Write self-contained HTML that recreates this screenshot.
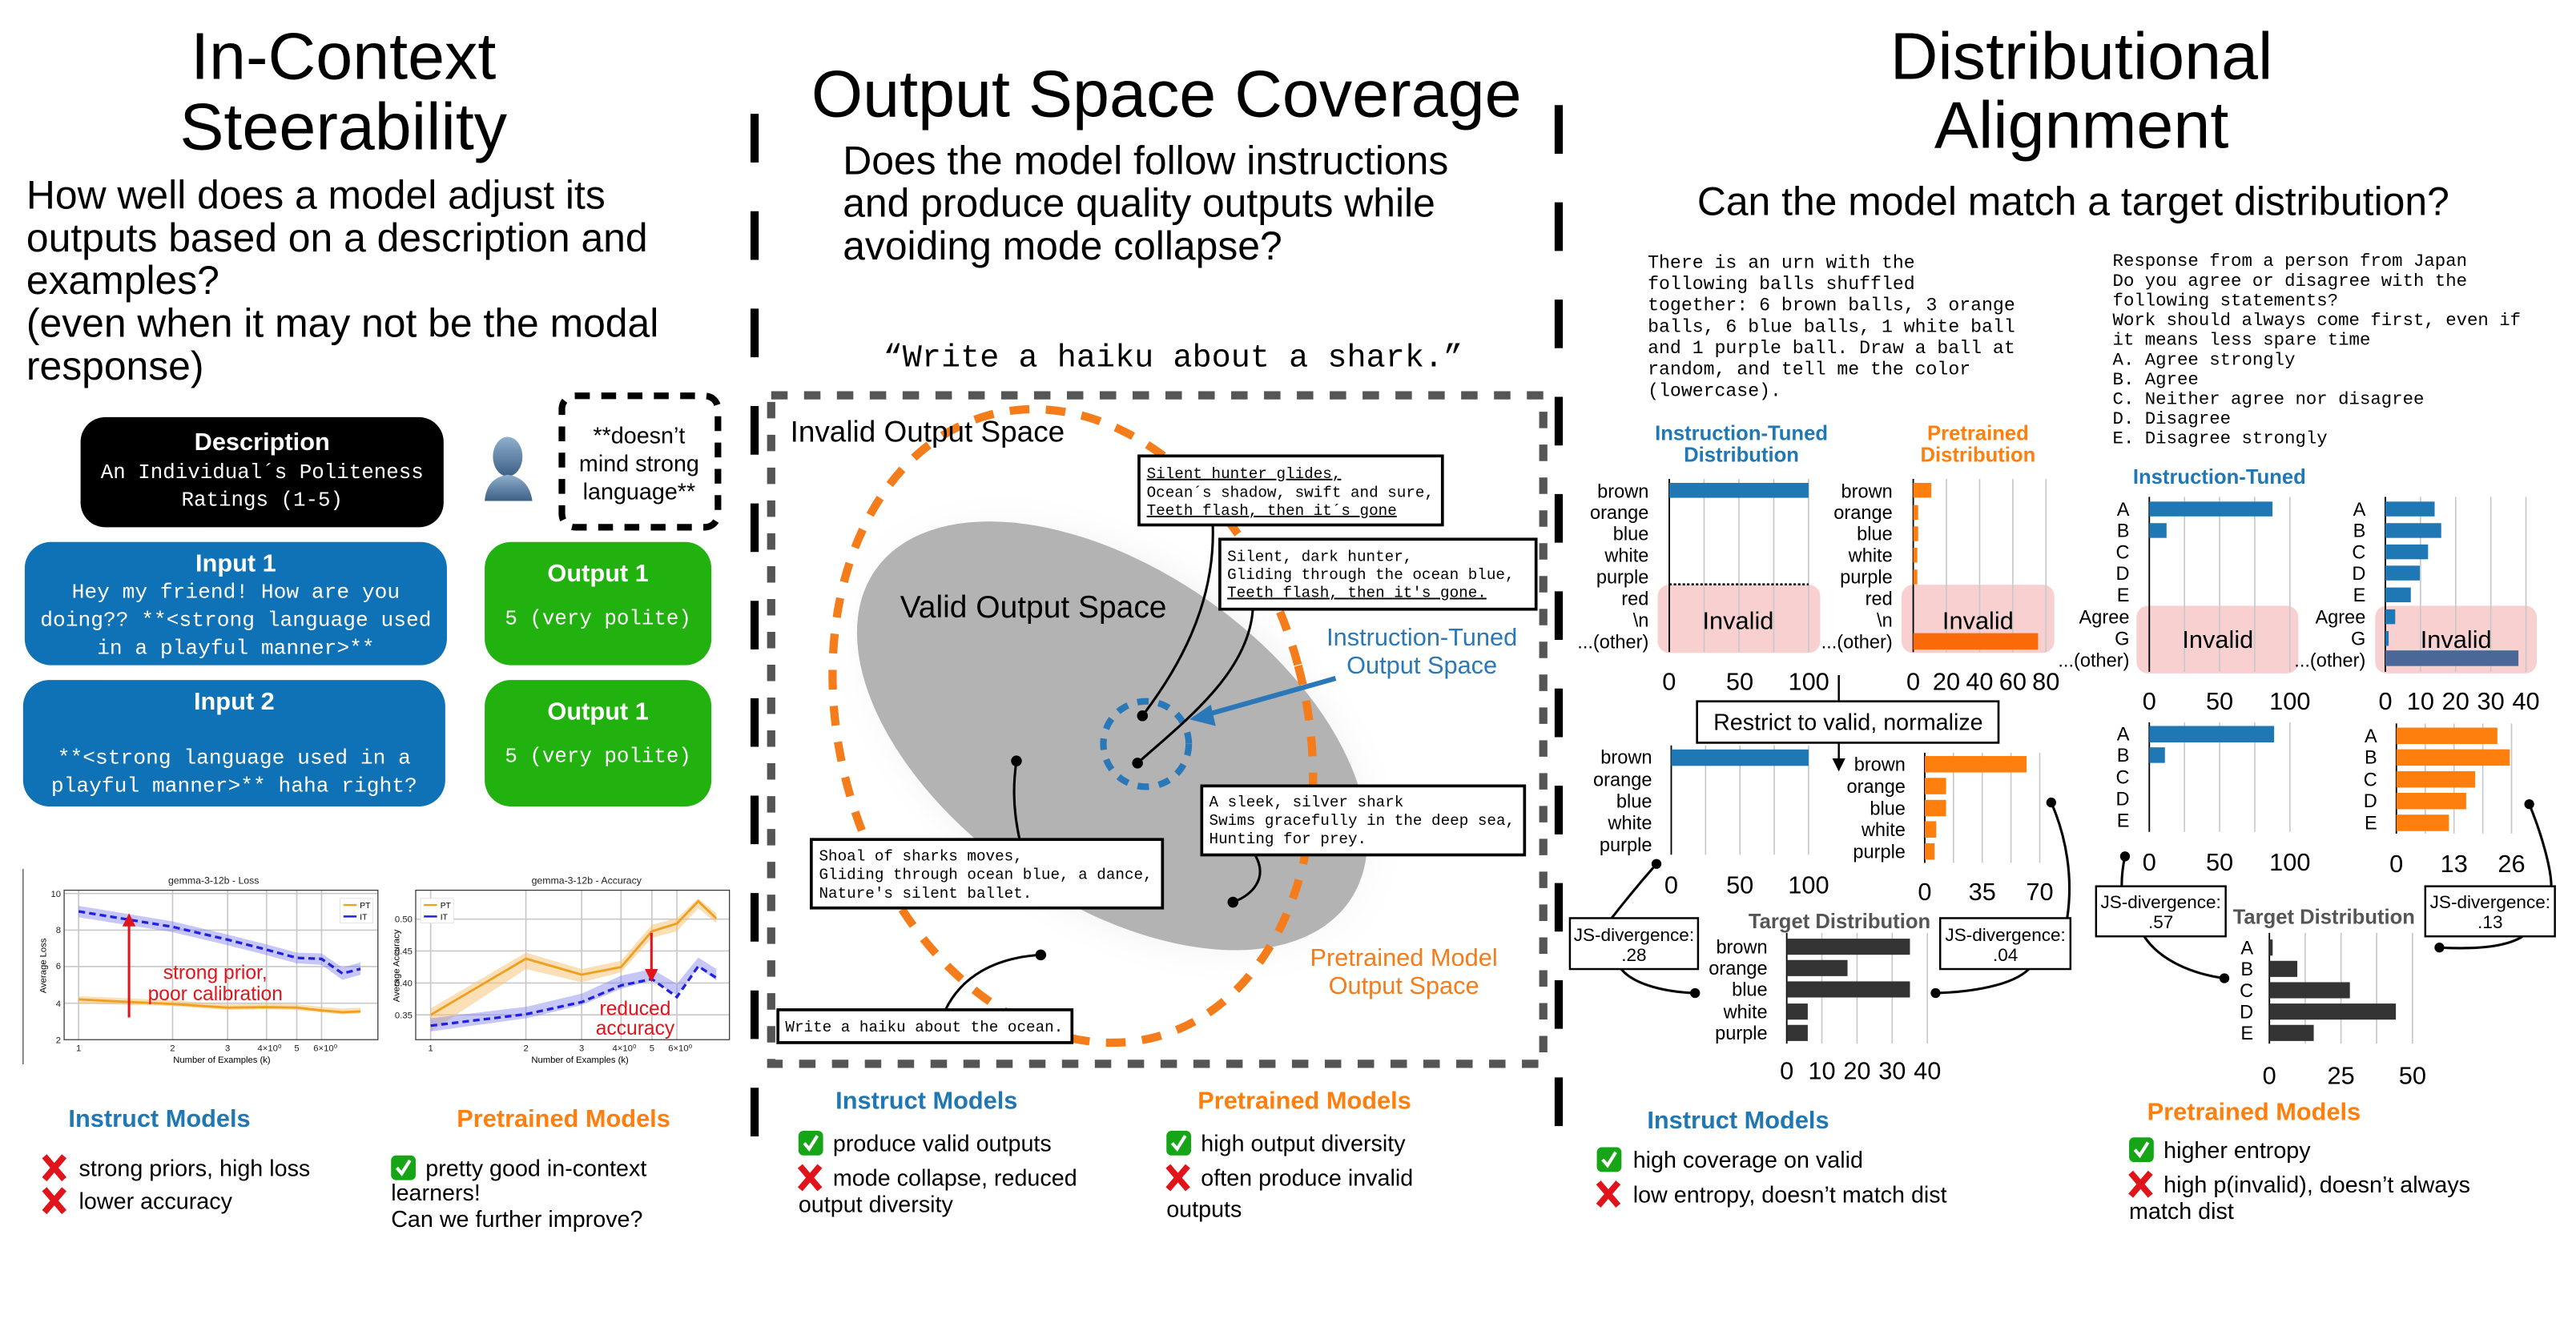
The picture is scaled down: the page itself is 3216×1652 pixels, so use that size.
<!DOCTYPE html>
<html><head><meta charset="utf-8"><style>
html,body{margin:0;padding:0;background:#fff}
svg{display:block}
text{font-family:"Liberation Sans",Arial,sans-serif}
.m,.m text,text.m{font-family:"Liberation Mono","DejaVu Sans Mono",monospace}
.lab{font-size:11.5px;text-anchor:end}
.tk{font-size:15px;text-anchor:middle}
.g{stroke:#c8c8c8;stroke-width:0.8}
</style></head><body>
<svg width="3216" height="1652" viewBox="0 0 1568 805.5" xmlns="http://www.w3.org/2000/svg">
<defs>
<g id="ok"><rect x="0" y="-12.5" width="15" height="15" rx="3" fill="#16a516"/><path d="M3.5 -5 L6.5 -1.5 L11.5 -9.5" stroke="#fff" stroke-width="2" fill="none"/></g>
<g id="no"><path d="M1 -12 L13 2 M13 -12 L1 2" stroke="#e0141b" stroke-width="3.8"/></g>
<radialGradient id="halo" cx="0.5" cy="0.5" r="0.5"><stop offset="0.6" stop-color="#c8c8c8" stop-opacity="0.6"/><stop offset="1" stop-color="#fff" stop-opacity="0"/></radialGradient>
<linearGradient id="pg" x1="0" y1="0" x2="0" y2="1"><stop offset="0" stop-color="#8fb0cc"/><stop offset="1" stop-color="#3c5f85"/></linearGradient>
<marker id="ah" markerWidth="8" markerHeight="8" refX="7" refY="4" orient="auto" markerUnits="userSpaceOnUse"><path d="M0 0 L8 4 L0 8z" fill="#000"/></marker>
</defs>

<!-- dividers -->
<line x1="459.3" y1="69.3" x2="459.3" y2="700" stroke="#000" stroke-width="5" stroke-dasharray="29.6 29.7"/>
<line x1="948.8" y1="64" x2="948.8" y2="690" stroke="#000" stroke-width="5" stroke-dasharray="29.6 29.6"/>

<!-- ===== LEFT PANEL ===== -->
<text x="209" y="48" font-size="40.3" text-anchor="middle">In-Context</text>
<text x="209" y="91" font-size="40.3" text-anchor="middle">Steerability</text>
<g font-size="24.3">
<text x="16" y="127">How well does a model adjust its</text>
<text x="16" y="153">outputs based on a description and</text>
<text x="16" y="179">examples?</text>
<text x="16" y="205">(even when it may not be the modal</text>
<text x="16" y="231">response)</text>
</g>
<rect x="49" y="254" width="221" height="67" rx="15" fill="#000"/>
<text x="159.5" y="274" font-size="15" font-weight="bold" fill="#fff" text-anchor="middle">Description</text>
<text x="159.5" y="291" class="m" font-size="12.6" fill="#fff" text-anchor="middle">An Individual´s Politeness</text>
<text x="159.5" y="308" class="m" font-size="12.6" fill="#fff" text-anchor="middle">Ratings (1-5)</text>
<ellipse cx="309" cy="278" rx="9" ry="12" fill="url(#pg)"/>
<path d="M295 305 Q296 291 309 289 Q322 291 324 305 Z" fill="url(#pg)"/>
<rect x="342" y="241" width="95" height="80" rx="8" fill="none" stroke="#000" stroke-width="4" stroke-dasharray="9 7"/>
<g font-size="14" text-anchor="middle"><text x="389" y="270">**doesn’t</text><text x="389" y="287">mind strong</text><text x="389" y="304">language**</text></g>

<rect x="15" y="330" width="257" height="75" rx="16" fill="#0f72b6"/>
<text x="143.5" y="348" font-size="15" font-weight="bold" fill="#fff" text-anchor="middle">Input 1</text>
<g class="m" font-size="12.8" fill="#fff" text-anchor="middle">
<text x="143.5" y="364">Hey my friend! How are you</text>
<text x="143.5" y="381">doing?? **&lt;strong language used</text>
<text x="143.5" y="398">in a playful manner&gt;**</text>
</g>
<rect x="295" y="330" width="138" height="75" rx="16" fill="#21b20f"/>
<text x="364" y="354" font-size="15" font-weight="bold" fill="#fff" text-anchor="middle">Output 1</text>
<text x="364" y="380" class="m" font-size="12.6" fill="#fff" text-anchor="middle">5 (very polite)</text>
<rect x="14" y="414" width="257" height="77" rx="16" fill="#0f72b6"/>
<text x="142.5" y="432" font-size="15" font-weight="bold" fill="#fff" text-anchor="middle">Input 2</text>
<g class="m" font-size="12.8" fill="#fff" text-anchor="middle">
<text x="142.5" y="465">**&lt;strong language used in a</text>
<text x="142.5" y="482">playful manner&gt;** haha right?</text>
</g>
<rect x="295" y="414" width="138" height="77" rx="16" fill="#21b20f"/>
<text x="364" y="438" font-size="15" font-weight="bold" fill="#fff" text-anchor="middle">Output 1</text>
<text x="364" y="464" class="m" font-size="12.6" fill="#fff" text-anchor="middle">5 (very polite)</text>

<!-- Loss chart -->
<line x1="14" y1="529" x2="14" y2="648" stroke="#444" stroke-width="0.6"/>
<text x="130" y="538" font-size="6" text-anchor="middle" fill="#222">gemma-3-12b - Loss</text>
<g class="g" stroke-width="0.4"><line x1="47.8" y1="542" x2="47.8" y2="633"/><line x1="105" y1="542" x2="105" y2="633"/><line x1="138.5" y1="542" x2="138.5" y2="633"/><line x1="162.2" y1="542" x2="162.2" y2="633"/><line x1="180.6" y1="542" x2="180.6" y2="633"/><line x1="195.7" y1="542" x2="195.7" y2="633"/>
<line x1="39" y1="544" x2="230" y2="544"/><line x1="39" y1="566.3" x2="230" y2="566.3"/><line x1="39" y1="588.5" x2="230" y2="588.5"/><line x1="39" y1="610.8" x2="230" y2="610.8"/></g>
<rect x="39" y="542" width="191" height="91" fill="none" stroke="#333" stroke-width="0.6"/>
<g font-size="5.5" fill="#222" text-anchor="end"><text x="37" y="546">10</text><text x="37" y="568">8</text><text x="37" y="590">6</text><text x="37" y="613">4</text><text x="37" y="635">2</text></g>
<g font-size="5.5" fill="#222" text-anchor="middle"><text x="47.8" y="640">1</text><text x="105" y="640">2</text><text x="138.5" y="640">3</text><text x="164" y="640">4×10⁰</text><text x="180.6" y="640">5</text><text x="198" y="640">6×10⁰</text></g>
<text x="135" y="647" font-size="5.5" text-anchor="middle">Number of Examples (k)</text>
<text x="28" y="588" font-size="5.5" text-anchor="middle" transform="rotate(-90 28 588)">Average Loss</text>
<path d="M47.8 551.5 L105 561 L138.5 569 L162.2 575 L180.6 580 L195.7 580.5 L208.4 589 L219.4 586 L219.4 593.5 L208.4 596.5 L195.7 587.5 L180.6 586.5 L162.2 581.5 L138.5 575.5 L105 567.5 L47.8 558.5Z" fill="#8080f0" opacity="0.45"/>
<polyline points="47.8,554.9 105,564.3 138.5,572.1 162.2,578.2 180.6,583.2 195.7,583.8 208.4,592.7 219.4,589.9" fill="none" stroke="#2020e0" stroke-width="1.6" stroke-dasharray="4 2.5"/>
<path d="M47.8 606.5 L105 609 L138.5 611.5 L162.2 611 L180.6 611.5 L195.7 613 L208.4 614 L219.4 613.5 L219.4 617 L208.4 617.6 L195.7 616.5 L180.6 615 L162.2 614.5 L138.5 615 L105 612.5 L47.8 611Z" fill="#f5c070" opacity="0.5"/>
<polyline points="47.8,608.5 105,611.3 138.5,613.5 162.2,613.2 180.6,613.5 195.7,615.2 208.4,616.3 219.4,615.8" fill="none" stroke="#f0a020" stroke-width="1.4"/>
<rect x="207" y="547" width="20" height="15" fill="#fff" stroke="#ddd" stroke-width="0.4"/>
<line x1="209" y1="551" x2="217" y2="551" stroke="#f0a020" stroke-width="1.2"/><line x1="209" y1="558" x2="217" y2="558" stroke="#2020e0" stroke-width="1.2"/>
<text x="219" y="553" font-size="5">PT</text><text x="219" y="560" font-size="5">IT</text>
<line x1="78.5" y1="619.5" x2="78.5" y2="563" stroke="#e0141b" stroke-width="1.5"/><path d="M74.5 564 L78.5 556 L82.5 564Z" fill="#e0141b"/>
<text x="131" y="596" font-size="12" fill="#e0141b" text-anchor="middle">strong prior,</text>
<text x="131" y="609" font-size="12" fill="#e0141b" text-anchor="middle">poor calibration</text>

<!-- Accuracy chart -->
<text x="357" y="538" font-size="6" text-anchor="middle" fill="#222">gemma-3-12b - Accuracy</text>
<g class="g" stroke-width="0.4"><line x1="262.1" y1="542" x2="262.1" y2="633"/><line x1="320.1" y1="542" x2="320.1" y2="633"/><line x1="354" y1="542" x2="354" y2="633"/><line x1="378" y1="542" x2="378" y2="633"/><line x1="396.8" y1="542" x2="396.8" y2="633"/><line x1="412" y1="542" x2="412" y2="633"/>
<line x1="253" y1="559.6" x2="444" y2="559.6"/><line x1="253" y1="579" x2="444" y2="579"/><line x1="253" y1="598.5" x2="444" y2="598.5"/><line x1="253" y1="617.9" x2="444" y2="617.9"/></g>
<rect x="253" y="542" width="191" height="91" fill="none" stroke="#333" stroke-width="0.6"/>
<g font-size="5.5" fill="#222" text-anchor="end"><text x="251" y="561.5">0.50</text><text x="251" y="581">0.45</text><text x="251" y="600.5">0.40</text><text x="251" y="620">0.35</text></g>
<g font-size="5.5" fill="#222" text-anchor="middle"><text x="262.1" y="640">1</text><text x="320.1" y="640">2</text><text x="354" y="640">3</text><text x="380" y="640">4×10⁰</text><text x="396.8" y="640">5</text><text x="414" y="640">6×10⁰</text></g>
<text x="353" y="647" font-size="5.5" text-anchor="middle">Number of Examples (k)</text>
<text x="243" y="588" font-size="5.5" text-anchor="middle" transform="rotate(-90 243 588)">Average Accuracy</text>
<path d="M262.1 614 L320.1 580 L354 590 L378 585 L396.8 563 L412 559 L425 547 L436 556 L436 562 L425 553 L412 567 L396.8 571 L378 592 L354 598 L320.1 590 L262.1 628Z" fill="#f5c070" opacity="0.5"/>
<polyline points="262.1,617.9 320.1,583.7 354,593.4 378,588.8 396.8,567 412,562.3 425,548.7 436,559.2" fill="none" stroke="#f0a020" stroke-width="1.4"/>
<path d="M262.1 620 L320.1 613 L354 605 L378 594 L396.8 590 L412 599 L425 583 L436 590 L436 597 L425 589 L412 606 L396.8 597 L378 602 L354 612 L320.1 620 L262.1 628Z" fill="#8080f0" opacity="0.45"/>
<polyline points="262.1,624.5 320.1,617.5 354,610.1 378,600 396.8,596.1 412,607 425,588.3 436,595.3" fill="none" stroke="#2020e0" stroke-width="1.6" stroke-dasharray="4 2.5"/>
<rect x="256" y="547" width="20" height="15" fill="#fff" stroke="#ddd" stroke-width="0.4"/>
<line x1="258" y1="551" x2="266" y2="551" stroke="#f0a020" stroke-width="1.2"/><line x1="258" y1="558" x2="266" y2="558" stroke="#2020e0" stroke-width="1.2"/>
<text x="268" y="553" font-size="5">PT</text><text x="268" y="560" font-size="5">IT</text>
<line x1="396.5" y1="568" x2="396.5" y2="591" stroke="#e0141b" stroke-width="1.5"/><path d="M392.5 590 L396.5 598 L400.5 590Z" fill="#e0141b"/>
<text x="386.6" y="618" font-size="12" fill="#e0141b" text-anchor="middle">reduced</text>
<text x="386.6" y="630" font-size="12" fill="#e0141b" text-anchor="middle">accuracy</text>

<text x="97" y="686" font-size="15" font-weight="bold" fill="#1f77b4" text-anchor="middle">Instruct Models</text>
<text x="343" y="686" font-size="15" font-weight="bold" fill="#ff7f0e" text-anchor="middle">Pretrained Models</text>
<g font-size="14">
<use href="#no" x="26" y="716"/><text x="48" y="716">strong priors, high loss</text>
<use href="#no" x="26" y="736"/><text x="48" y="736">lower accuracy</text>
<use href="#ok" x="238" y="716"/><text x="259" y="716">pretty good in-context</text>
<text x="238" y="731">learners!</text>
<text x="238" y="747">Can we further improve?</text>
</g>

<!-- ===== MIDDLE PANEL ===== -->
<text x="710" y="71" font-size="40.3" text-anchor="middle">Output Space Coverage</text>
<g font-size="24.3"><text x="513" y="106">Does the model follow instructions</text><text x="513" y="132">and produce quality outputs while</text><text x="513" y="158">avoiding mode collapse?</text></g>
<text x="714" y="223" class="m" font-size="19.6" text-anchor="middle">“Write a haiku about a shark.”</text>
<rect x="469.4" y="240.7" width="470" height="407" fill="none" stroke="#555" stroke-width="5" stroke-dasharray="10 10"/>
<ellipse cx="680" cy="450" rx="200" ry="125" transform="rotate(35 680 450)" fill="url(#halo)"/>
<ellipse cx="677" cy="448" rx="176" ry="101" transform="rotate(35 677 448)" fill="#b3b3b3"/>
<ellipse cx="653" cy="442" rx="142" ry="196" transform="rotate(-15 653 442)" fill="none" stroke="#f57c1a" stroke-width="5" stroke-dasharray="12 10"/>
<text x="481" y="269" font-size="18">Invalid Output Space</text>
<text x="629" y="376" font-size="19" text-anchor="middle">Valid Output Space</text>
<circle cx="697.6" cy="453" r="26" fill="none" stroke="#2a78b8" stroke-width="4" stroke-dasharray="7 6"/>
<text x="865.5" y="393" font-size="15" fill="#2a78b8" text-anchor="middle">Instruction-Tuned</text>
<text x="865.5" y="410" font-size="15" fill="#2a78b8" text-anchor="middle">Output Space</text>
<line x1="813" y1="413" x2="735" y2="435" stroke="#2a78b8" stroke-width="3"/><path d="M724 438 L737 429 L740 442Z" fill="#2a78b8"/>
<text x="854.5" y="588" font-size="15" fill="#f57c1a" text-anchor="middle">Pretrained Model</text>
<text x="854.5" y="605" font-size="15" fill="#f57c1a" text-anchor="middle">Output Space</text>
<g fill="none" stroke="#000" stroke-width="1.5">
<path d="M738.2 319.5 C740 370 715 410 695.4 435.8"/>
<path d="M762.6 370.9 C760 410 720 440 692.4 464.6"/>
<path d="M620.6 511 C616 490 617 475 618.7 463.3"/>
<path d="M764.2 521 C772 535 762 545 750.5 549.3"/>
<path d="M575.5 614.8 C585 595 605 583 633.5 581.4"/>
</g>
<g fill="#000"><circle cx="695.4" cy="435.8" r="3.3"/><circle cx="692.4" cy="464.6" r="3.3"/><circle cx="618.7" cy="463.3" r="3.3"/><circle cx="750.5" cy="549.3" r="3.3"/><circle cx="633.5" cy="581.4" r="3.3"/></g>
<g class="m" font-size="9.4">
<rect x="693.3" y="277.6" width="184.7" height="42" fill="#fff" stroke="#000" stroke-width="1.8"/>
<text x="698" y="291" text-decoration="underline">Silent hunter glides,</text>
<text x="698" y="302.5">Ocean´s shadow, swift and sure,</text>
<text x="698" y="313.5" text-decoration="underline">Teeth flash, then it´s gone</text>
<rect x="742.5" y="328.3" width="192.5" height="42.6" fill="#fff" stroke="#000" stroke-width="1.8"/>
<text x="747" y="341.5">Silent, dark hunter,</text>
<text x="747" y="352.5">Gliding through the ocean blue,</text>
<text x="747" y="363.5" text-decoration="underline">Teeth flash, then it's gone.</text>
<rect x="731.5" y="478.5" width="196.5" height="42" fill="#fff" stroke="#000" stroke-width="1.8"/>
<text x="736" y="491">A sleek, silver shark</text>
<text x="736" y="502.3">Swims gracefully in the deep sea,</text>
<text x="736" y="513.5">Hunting for prey.</text>
<rect x="493.8" y="511.1" width="213.8" height="41.7" fill="#fff" stroke="#000" stroke-width="1.8"/>
<text x="498.5" y="524">Shoal of sharks moves,</text>
<text x="498.5" y="535.2">Gliding through ocean blue, a dance,</text>
<text x="498.5" y="546.5">Nature's silent ballet.</text>
<rect x="473.5" y="614.8" width="179" height="20" fill="#fff" stroke="#000" stroke-width="1.8"/>
<text x="478" y="628">Write a haiku about the ocean.</text>
</g>
<text x="564" y="675" font-size="15" font-weight="bold" fill="#1f77b4" text-anchor="middle">Instruct Models</text>
<text x="794" y="675" font-size="15" font-weight="bold" fill="#ff7f0e" text-anchor="middle">Pretrained Models</text>
<g font-size="14">
<use href="#ok" x="486" y="701"/><text x="507" y="701">produce valid outputs</text>
<use href="#no" x="486" y="722"/><text x="507" y="722">mode collapse, reduced</text>
<text x="486" y="738">output diversity</text>
<use href="#ok" x="710" y="701"/><text x="731" y="701">high output diversity</text>
<use href="#no" x="710" y="722"/><text x="731" y="722">often produce invalid</text>
<text x="710" y="741">outputs</text>
</g>

<!-- ===== RIGHT PANEL ===== -->
<text x="1267" y="48" font-size="40.3" text-anchor="middle">Distributional</text>
<text x="1267" y="90" font-size="40.3" text-anchor="middle">Alignment</text>
<text x="1262" y="131" font-size="24.3" text-anchor="middle">Can the model match a target distribution?</text>
<g class="m" font-size="11.3">
<text x="1003" y="163">There is an urn with the</text>
<text x="1003" y="176">following balls shuffled</text>
<text x="1003" y="189">together: 6 brown balls, 3 orange</text>
<text x="1003" y="202">balls, 6 blue balls, 1 white ball</text>
<text x="1003" y="215">and 1 purple ball. Draw a ball at</text>
<text x="1003" y="228">random, and tell me the color</text>
<text x="1003" y="241">(lowercase).</text>
</g>
<g class="m" font-size="10.9">
<text x="1286" y="162">Response from a person from Japan</text>
<text x="1286" y="174">Do you agree or disagree with the</text>
<text x="1286" y="186">following statements?</text>
<text x="1286" y="198">Work should always come first, even if</text>
<text x="1286" y="210">it means less spare time</text>
<text x="1286" y="222">A. Agree strongly</text>
<text x="1286" y="234">B. Agree</text>
<text x="1286" y="246">C. Neither agree nor disagree</text>
<text x="1286" y="258">D. Disagree</text>
<text x="1286" y="270">E. Disagree strongly</text>
</g>
<g font-size="12.5" font-weight="bold" text-anchor="middle">
<text x="1060" y="268" fill="#1f77b4">Instruction-Tuned</text><text x="1060" y="281" fill="#1f77b4">Distribution</text>
<text x="1204" y="268" fill="#ff7f0e">Pretrained</text><text x="1204" y="281" fill="#ff7f0e">Distribution</text>
<text x="1351" y="294.5" fill="#1f77b4">Instruction-Tuned</text>
</g>

<!-- Chart A -->
<rect x="1009" y="356" width="99" height="41.5" rx="7" fill="#f9d0d0"/>
<g class="g"><line x1="1037.3" y1="291.6" x2="1037.3" y2="397"/><line x1="1058.5" y1="291.6" x2="1058.5" y2="397"/><line x1="1079.7" y1="291.6" x2="1079.7" y2="397"/><line x1="1100.9" y1="291.6" x2="1100.9" y2="397"/></g>
<line x1="1016.1" y1="291.6" x2="1016.1" y2="397" stroke="#000" stroke-width="0.9"/>
<rect x="1016.1" y="294" width="84.8" height="9.1" fill="#1f77b4"/>
<line x1="1016.1" y1="355.8" x2="1100.9" y2="355.8" stroke="#000" stroke-width="1.3" stroke-dasharray="1.5 1.2"/>
<g class="lab"><text x="1003.6" y="303">brown</text><text x="1003.6" y="316">orange</text><text x="1003.6" y="329">blue</text><text x="1003.6" y="342">white</text><text x="1003.6" y="355.3">purple</text><text x="1003.6" y="368.4">red</text><text x="1003.6" y="381.5">\n</text><text x="1003.6" y="394.7">...(other)</text></g>
<text x="1058" y="383" font-size="15" text-anchor="middle">Invalid</text>
<g class="tk"><text x="1016" y="420">0</text><text x="1059" y="420">50</text><text x="1101" y="420">100</text></g>

<!-- Chart B -->
<rect x="1157.5" y="356" width="93" height="41.5" rx="7" fill="#f9d0d0"/>
<g class="g"><line x1="1184.8" y1="291.6" x2="1184.8" y2="397"/><line x1="1205" y1="291.6" x2="1205" y2="397"/><line x1="1225.2" y1="291.6" x2="1225.2" y2="397"/><line x1="1245.4" y1="291.6" x2="1245.4" y2="397"/></g>
<line x1="1164.6" y1="291.6" x2="1164.6" y2="397" stroke="#000" stroke-width="0.9"/>
<g fill="#ff7f0e"><rect x="1164.6" y="294" width="11" height="9"/><rect x="1164.6" y="307.5" width="3" height="9"/><rect x="1164.6" y="320.5" width="3" height="9"/><rect x="1164.6" y="333.5" width="2.5" height="9"/><rect x="1164.6" y="346.8" width="2.5" height="9"/><rect x="1164.6" y="385.5" width="76" height="10" fill="#fb6a0a"/></g>
<g class="lab"><text x="1152" y="303">brown</text><text x="1152" y="316">orange</text><text x="1152" y="329">blue</text><text x="1152" y="342">white</text><text x="1152" y="355.3">purple</text><text x="1152" y="368.4">red</text><text x="1152" y="381.5">\n</text><text x="1152" y="394.7">...(other)</text></g>
<text x="1204" y="383" font-size="15" text-anchor="middle">Invalid</text>
<g class="tk"><text x="1164.6" y="420">0</text><text x="1184.8" y="420">20</text><text x="1205" y="420">40</text><text x="1225.2" y="420">60</text><text x="1245.4" y="420">80</text></g>

<line x1="1119.3" y1="411" x2="1119.3" y2="427" stroke="#000" stroke-width="1.2"/>
<rect x="1033" y="427" width="183.5" height="25.2" fill="#fff" stroke="#000" stroke-width="1.3"/>
<text x="1125" y="444.5" font-size="14" text-anchor="middle">Restrict to valid, normalize</text>
<line x1="1119.3" y1="452.2" x2="1119.3" y2="468.7" stroke="#000" stroke-width="1.2" marker-end="url(#ah)"/>

<!-- Chart C -->
<g class="g"><line x1="1038.2" y1="453.8" x2="1038.2" y2="520.4"/><line x1="1059.1" y1="453.8" x2="1059.1" y2="520.4"/><line x1="1080" y1="453.8" x2="1080" y2="520.4"/><line x1="1100.9" y1="453.8" x2="1100.9" y2="520.4"/></g>
<line x1="1017.3" y1="453.8" x2="1017.3" y2="520.4" stroke="#000" stroke-width="0.9"/>
<rect x="1017.3" y="456.3" width="83.6" height="10" fill="#1f77b4"/>
<g class="lab"><text x="1005.6" y="465">brown</text><text x="1005.6" y="478.6">orange</text><text x="1005.6" y="491.8">blue</text><text x="1005.6" y="505">white</text><text x="1005.6" y="518.4">purple</text></g>
<g class="tk"><text x="1017.3" y="544">0</text><text x="1059.1" y="544">50</text><text x="1100.9" y="544">100</text></g>

<!-- Chart D -->
<g class="g"><line x1="1189.1" y1="458.3" x2="1189.1" y2="525.4"/><line x1="1206.6" y1="458.3" x2="1206.6" y2="525.4"/><line x1="1224.1" y1="458.3" x2="1224.1" y2="525.4"/><line x1="1241.6" y1="458.3" x2="1241.6" y2="525.4"/></g>
<line x1="1171.6" y1="458.3" x2="1171.6" y2="525.4" stroke="#000" stroke-width="0.9"/>
<g fill="#ff7f0e"><rect x="1171.6" y="460.3" width="62" height="10"/><rect x="1171.6" y="473.6" width="13" height="10"/><rect x="1171.6" y="487" width="13" height="10"/><rect x="1171.6" y="500" width="7" height="10"/><rect x="1171.6" y="513.4" width="6" height="10"/></g>
<g class="lab"><text x="1159.9" y="469.3">brown</text><text x="1159.9" y="482.6">orange</text><text x="1159.9" y="496.2">blue</text><text x="1159.9" y="509">white</text><text x="1159.9" y="522.4">purple</text></g>
<g class="tk"><text x="1171.6" y="548">0</text><text x="1206.6" y="548">35</text><text x="1241.6" y="548">70</text></g>

<!-- Target urn -->
<text x="1119.7" y="565" font-size="12.5" font-weight="bold" fill="#555" text-anchor="middle">Target Distribution</text>
<g class="g"><line x1="1109" y1="568" x2="1109" y2="635.4"/><line x1="1130.4" y1="568" x2="1130.4" y2="635.4"/><line x1="1151.8" y1="568" x2="1151.8" y2="635.4"/><line x1="1173.2" y1="568" x2="1173.2" y2="635.4"/></g>
<line x1="1087.6" y1="568" x2="1087.6" y2="635.4" stroke="#000" stroke-width="0.9"/>
<g fill="#333"><rect x="1087.6" y="571.5" width="75" height="9.8"/><rect x="1087.6" y="584.5" width="37" height="9.8"/><rect x="1087.6" y="597.5" width="75" height="9.8"/><rect x="1087.6" y="611" width="12.8" height="9.8"/><rect x="1087.6" y="624" width="12.8" height="9.8"/></g>
<g class="lab"><text x="1075.9" y="580.4">brown</text><text x="1075.9" y="593.4">orange</text><text x="1075.9" y="606.4">blue</text><text x="1075.9" y="619.9">white</text><text x="1075.9" y="632.9">purple</text></g>
<g class="tk"><text x="1087.6" y="657">0</text><text x="1109" y="657">10</text><text x="1130.4" y="657">20</text><text x="1151.8" y="657">30</text><text x="1173.2" y="657">40</text></g>

<g fill="none" stroke="#000" stroke-width="1.5">
<path d="M1008.3 526 C996 540 988 550 981 559"/>
<path d="M986.8 590 C995 600 1015 604 1031.8 604.6"/>
<path d="M1248.6 488.6 C1258 510 1262 535 1258.3 559"/>
<path d="M1235 590 C1225 600 1200 604 1178.2 604.6"/>
</g>
<g fill="#000"><circle cx="1008.3" cy="526" r="3"/><circle cx="1031.8" cy="604.6" r="3"/><circle cx="1248.6" cy="488.6" r="3"/><circle cx="1178.2" cy="604.6" r="3"/></g>
<rect x="955.6" y="559" width="78" height="31" fill="#fff" stroke="#000" stroke-width="1.2"/>
<text x="994.6" y="573" font-size="11" text-anchor="middle">JS-divergence:</text><text x="994.6" y="585" font-size="11" text-anchor="middle">.28</text>
<rect x="1181" y="559" width="79.3" height="31" fill="#fff" stroke="#000" stroke-width="1.2"/>
<text x="1220.7" y="573" font-size="11" text-anchor="middle">JS-divergence:</text><text x="1220.7" y="585" font-size="11" text-anchor="middle">.04</text>

<!-- Chart E -->
<rect x="1300.5" y="368.8" width="98.5" height="41.2" rx="7" fill="#f9d0d0"/>
<g class="g"><line x1="1329.7" y1="302.5" x2="1329.7" y2="409"/><line x1="1351.1" y1="302.5" x2="1351.1" y2="409"/><line x1="1372.5" y1="302.5" x2="1372.5" y2="409"/><line x1="1393.9" y1="302.5" x2="1393.9" y2="409"/></g>
<line x1="1308.3" y1="302.5" x2="1308.3" y2="409" stroke="#000" stroke-width="0.9"/>
<g fill="#1f77b4"><rect x="1308.3" y="305.4" width="75" height="9"/><rect x="1308.3" y="318.5" width="10.5" height="9"/></g>
<g class="lab"><text x="1296.2" y="313.9">A</text><text x="1296.2" y="327">B</text><text x="1296.2" y="340">C</text><text x="1296.2" y="352.9">D</text><text x="1296.2" y="366.2">E</text><text x="1296.2" y="379.5">Agree</text><text x="1296.2" y="392.7">G</text><text x="1296.2" y="406">...(other)</text></g>
<text x="1350" y="394.5" font-size="15" text-anchor="middle">Invalid</text>
<g class="tk"><text x="1308.3" y="432">0</text><text x="1351.1" y="432">50</text><text x="1393.9" y="432">100</text></g>

<!-- Chart F -->
<rect x="1445.8" y="368.8" width="98.4" height="41.2" rx="7" fill="#f9d0d0"/>
<g class="g"><line x1="1473.4" y1="302.5" x2="1473.4" y2="409"/><line x1="1494.8" y1="302.5" x2="1494.8" y2="409"/><line x1="1516.2" y1="302.5" x2="1516.2" y2="409"/><line x1="1537.6" y1="302.5" x2="1537.6" y2="409"/></g>
<line x1="1452" y1="302.5" x2="1452" y2="409" stroke="#000" stroke-width="0.9"/>
<g fill="#1f77b4"><rect x="1452" y="305.4" width="30" height="9"/><rect x="1452" y="318.5" width="34" height="9"/><rect x="1452" y="331.5" width="26" height="9"/><rect x="1452" y="344.4" width="21" height="9"/><rect x="1452" y="357.7" width="15.5" height="9"/><rect x="1452" y="371" width="6" height="9"/><rect x="1452" y="384.2" width="2" height="9"/><rect x="1452" y="396" width="81" height="9.5" fill="#4a6797"/></g>
<g class="lab"><text x="1440" y="313.9">A</text><text x="1440" y="327">B</text><text x="1440" y="340">C</text><text x="1440" y="352.9">D</text><text x="1440" y="366.2">E</text><text x="1440" y="379.5">Agree</text><text x="1440" y="392.7">G</text><text x="1440" y="406">...(other)</text></g>
<text x="1495" y="394.5" font-size="15" text-anchor="middle">Invalid</text>
<g class="tk"><text x="1452" y="432">0</text><text x="1473.4" y="432">10</text><text x="1494.8" y="432">20</text><text x="1516.2" y="432">30</text><text x="1537.6" y="432">40</text></g>

<!-- Chart G -->
<g class="g"><line x1="1329.7" y1="439.8" x2="1329.7" y2="506.5"/><line x1="1351.1" y1="439.8" x2="1351.1" y2="506.5"/><line x1="1372.5" y1="439.8" x2="1372.5" y2="506.5"/><line x1="1393.9" y1="439.8" x2="1393.9" y2="506.5"/></g>
<line x1="1308.3" y1="439.8" x2="1308.3" y2="506.5" stroke="#000" stroke-width="0.9"/>
<g fill="#1f77b4"><rect x="1308.3" y="442" width="76" height="10"/><rect x="1308.3" y="455" width="9.5" height="9.5"/></g>
<g class="lab"><text x="1296.2" y="450.8">A</text><text x="1296.2" y="463.7">B</text><text x="1296.2" y="477">C</text><text x="1296.2" y="490.2">D</text><text x="1296.2" y="503.5">E</text></g>
<g class="tk"><text x="1308.3" y="530">0</text><text x="1351.1" y="530">50</text><text x="1393.9" y="530">100</text></g>

<!-- Chart H -->
<g class="g"><line x1="1476.3" y1="440.5" x2="1476.3" y2="507.5"/><line x1="1493.8" y1="440.5" x2="1493.8" y2="507.5"/><line x1="1511.3" y1="440.5" x2="1511.3" y2="507.5"/><line x1="1528.8" y1="440.5" x2="1528.8" y2="507.5"/></g>
<line x1="1458.7" y1="440.5" x2="1458.7" y2="507.5" stroke="#000" stroke-width="0.9"/>
<g fill="#ff7f0e"><rect x="1458.7" y="443" width="61.5" height="10"/><rect x="1458.7" y="456.2" width="69" height="10"/><rect x="1458.7" y="469.5" width="48" height="10"/><rect x="1458.7" y="482.7" width="42.5" height="10"/><rect x="1458.7" y="496" width="32" height="10"/></g>
<g class="lab"><text x="1447" y="452">A</text><text x="1447" y="465">B</text><text x="1447" y="478.5">C</text><text x="1447" y="491.5">D</text><text x="1447" y="505">E</text></g>
<g class="tk"><text x="1458.7" y="531">0</text><text x="1493.8" y="531">13</text><text x="1528.8" y="531">26</text></g>

<!-- Target MC -->
<text x="1414.6" y="562.5" font-size="12.5" font-weight="bold" fill="#555" text-anchor="middle">Target Distribution</text>
<g class="g"><line x1="1403.2" y1="568" x2="1403.2" y2="635.4"/><line x1="1425" y1="568" x2="1425" y2="635.4"/><line x1="1446.7" y1="568" x2="1446.7" y2="635.4"/><line x1="1468.5" y1="568" x2="1468.5" y2="635.4"/></g>
<line x1="1381.4" y1="568" x2="1381.4" y2="635.4" stroke="#000" stroke-width="0.9"/>
<g fill="#333"><rect x="1381.4" y="572" width="2" height="9.8"/><rect x="1381.4" y="585" width="17" height="9.8"/><rect x="1381.4" y="598" width="49" height="9.8"/><rect x="1381.4" y="611" width="77" height="9.8"/><rect x="1381.4" y="624" width="27" height="9.8"/></g>
<g class="lab"><text x="1371.6" y="580.9">A</text><text x="1371.6" y="593.9">B</text><text x="1371.6" y="607">C</text><text x="1371.6" y="619.9">D</text><text x="1371.6" y="632.9">E</text></g>
<g class="tk"><text x="1381.4" y="660">0</text><text x="1425" y="660">25</text><text x="1468.5" y="660">50</text></g>

<g fill="none" stroke="#000" stroke-width="1.5">
<path d="M1293.5 521.4 C1292 528 1291.5 533 1291.5 539.5"/>
<path d="M1305.2 570.1 C1315 585 1335 593 1354 595.6"/>
<path d="M1539.6 489.6 C1548 510 1553 530 1553 539.6"/>
<path d="M1535.6 570.1 C1525 577 1505 578 1484.9 576.9"/>
</g>
<g fill="#000"><circle cx="1293.5" cy="521.4" r="3"/><circle cx="1354" cy="595.6" r="3"/><circle cx="1539.6" cy="489.6" r="3"/><circle cx="1484.9" cy="576.9" r="3"/></g>
<rect x="1275.9" y="539.6" width="78.9" height="30.5" fill="#fff" stroke="#000" stroke-width="1.2"/>
<text x="1315.3" y="553" font-size="11" text-anchor="middle">JS-divergence:</text><text x="1315.3" y="565" font-size="11" text-anchor="middle">.57</text>
<rect x="1476.3" y="539.6" width="78.9" height="30.5" fill="#fff" stroke="#000" stroke-width="1.2"/>
<text x="1515.8" y="553" font-size="11" text-anchor="middle">JS-divergence:</text><text x="1515.8" y="565" font-size="11" text-anchor="middle">.13</text>

<text x="1058" y="687" font-size="15" font-weight="bold" fill="#1f77b4" text-anchor="middle">Instruct Models</text>
<text x="1372" y="682" font-size="15" font-weight="bold" fill="#ff7f0e" text-anchor="middle">Pretrained Models</text>
<g font-size="14">
<use href="#ok" x="972" y="711"/><text x="994" y="711">high coverage on valid</text>
<use href="#no" x="972" y="732"/><text x="994" y="732">low entropy, doesn’t match dist</text>
<use href="#ok" x="1296" y="705"/><text x="1317" y="705">higher entropy</text>
<use href="#no" x="1296" y="726"/><text x="1317" y="726">high p(invalid), doesn’t always</text>
<text x="1296" y="742">match dist</text>
</g>
</svg>
</body></html>
